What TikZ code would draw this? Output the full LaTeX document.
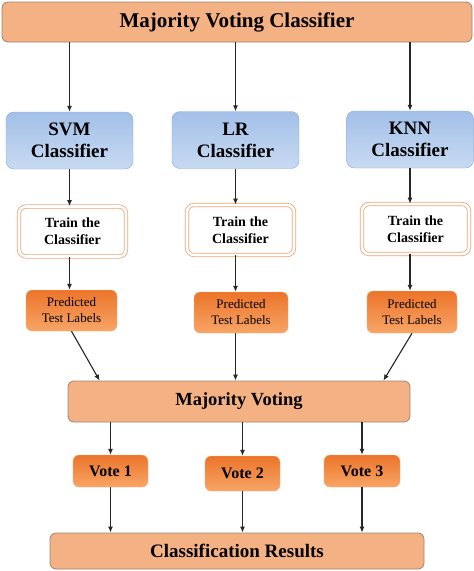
\documentclass[tikz,border=0pt]{standalone}
\usepackage{fontspec}
\setmainfont{LiberationSerif}[Extension=.ttf, UprightFont=*-Regular, BoldFont=*-Bold, ItalicFont=*-Italic, BoldItalicFont=*-BoldItalic]
\usetikzlibrary{arrows.meta}

\definecolor{peach}{HTML}{F4B183}
\definecolor{peachline}{HTML}{9C8478}
\definecolor{bluetop}{HTML}{A3C0E8}
\definecolor{bluebot}{HTML}{C8DAF2}
\definecolor{blueline}{HTML}{85A9D9}
\definecolor{orangetop}{HTML}{EC742A}
\definecolor{orangebot}{HTML}{F7A566}
\definecolor{trainline}{HTML}{F0A478}

\tikzset{
  wide/.style={draw=peachline, fill=peach, rounded corners=6pt, line width=0.8pt},
  clf/.style={draw=blueline, top color=bluetop, bottom color=bluebot, rounded corners=8pt,
    minimum width=127pt, minimum height=57pt, align=center, font=\fontsize{19}{22}\selectfont\bfseries},
  train/.style={draw=trainline, double=white, double distance=2.6pt, line width=0.8pt, rounded corners=7pt,
    minimum width=107pt, minimum height=50pt, align=center, font=\fontsize{14}{17}\selectfont\bfseries},
  pred/.style={draw=peach, top color=orangetop, bottom color=orangebot, rounded corners=6pt,
    minimum width=91pt, minimum height=41pt, align=center, font=\fontsize{13}{16}\selectfont},
  vote/.style={pred, minimum width=75pt, minimum height=32pt, font=\fontsize{16}{19}\selectfont\bfseries},
  arr/.style={-{Latex[length=6pt,width=5pt]}, line width=1.1pt, black!85}
}

\begin{document}
\begin{tikzpicture}[x=1pt,y=-1pt]
\useasboundingbox (0,0) rectangle (474,571);

\node[wide, minimum width=470pt, minimum height=40pt, font=\fontsize{21}{24}\selectfont\bfseries] (mvc) at (237,22) {Majority Voting Classifier};

\node[clf] (svm) at (69.5,140.5) {SVM\\Classifier};
\node[clf] (lr) at (235.5,140) {LR\\Classifier};
\node[clf] (knn) at (410,139.5) {KNN\\Classifier};

\node[train] (trsvm) at (72.5,231.5) {Train the\\Classifier};
\node[train] (trlr) at (240.5,230) {Train the\\Classifier};
\node[train] (trknn) at (415.5,229) {Train the\\Classifier};

\node[pred] (psvm) at (71.5,310.5) {Predicted\\Test Labels};
\node[pred, minimum width=94pt] (plr) at (241,312.5) {Predicted\\Test Labels};
\node[pred, minimum width=90pt, minimum height=42pt] (pknn) at (412,312) {Predicted\\Test Labels};

\node[wide, minimum width=342pt, minimum height=41pt, font=\fontsize{18.5}{22}\selectfont\bfseries] (mv) at (239,401.5) {Majority Voting};

\node[vote] (vote1) at (110.5,471) {Vote 1};
\node[vote, minimum height=35pt] (vote2) at (242.5,473.5) {Vote 2};
\node[vote, minimum width=76pt] (vote3) at (362,471) {Vote 3};

\node[wide, minimum width=374pt, minimum height=36pt, font=\fontsize{19}{22}\selectfont\bfseries] (res) at (237,551) {Classification Results};

% classifier to base models
\draw[arr] (mvc.south -| svm) -- (svm);
\draw[arr] (mvc.south -| lr) -- (lr);
\draw[arr] (mvc.south -| knn) -- (knn);

% training
\draw[arr] (svm) -- (svm |- trsvm.north);
\draw[arr] (lr) -- (lr |- trlr.north);
\draw[arr] (knn) -- (knn |- trknn.north);
\draw[arr] (trsvm.south -| svm) -- (psvm.north -| svm);
\draw[arr] (trlr.south -| lr) -- (plr.north -| lr);
\draw[arr] (trknn.south -| knn) -- (pknn.north -| knn);

% voting
\draw[arr] (psvm.south) -- ([xshift=32pt]mv.north west);
\draw[arr] (plr.south -| lr) -- (mv.north -| lr);
\draw[arr] (pknn.south) -- ([xshift=-27pt]mv.north east);

\draw[arr] (mv.south -| vote1) -- (vote1);
\draw[arr] (mv.south -| vote2) -- (vote2);
\draw[arr] (mv.south -| vote3) -- (vote3);
\draw[arr] (vote1) -- (vote1 |- res.north);
\draw[arr] (vote2) -- (vote2 |- res.north);
\draw[arr] (vote3) -- (vote3 |- res.north);
\end{tikzpicture}
\end{document}
